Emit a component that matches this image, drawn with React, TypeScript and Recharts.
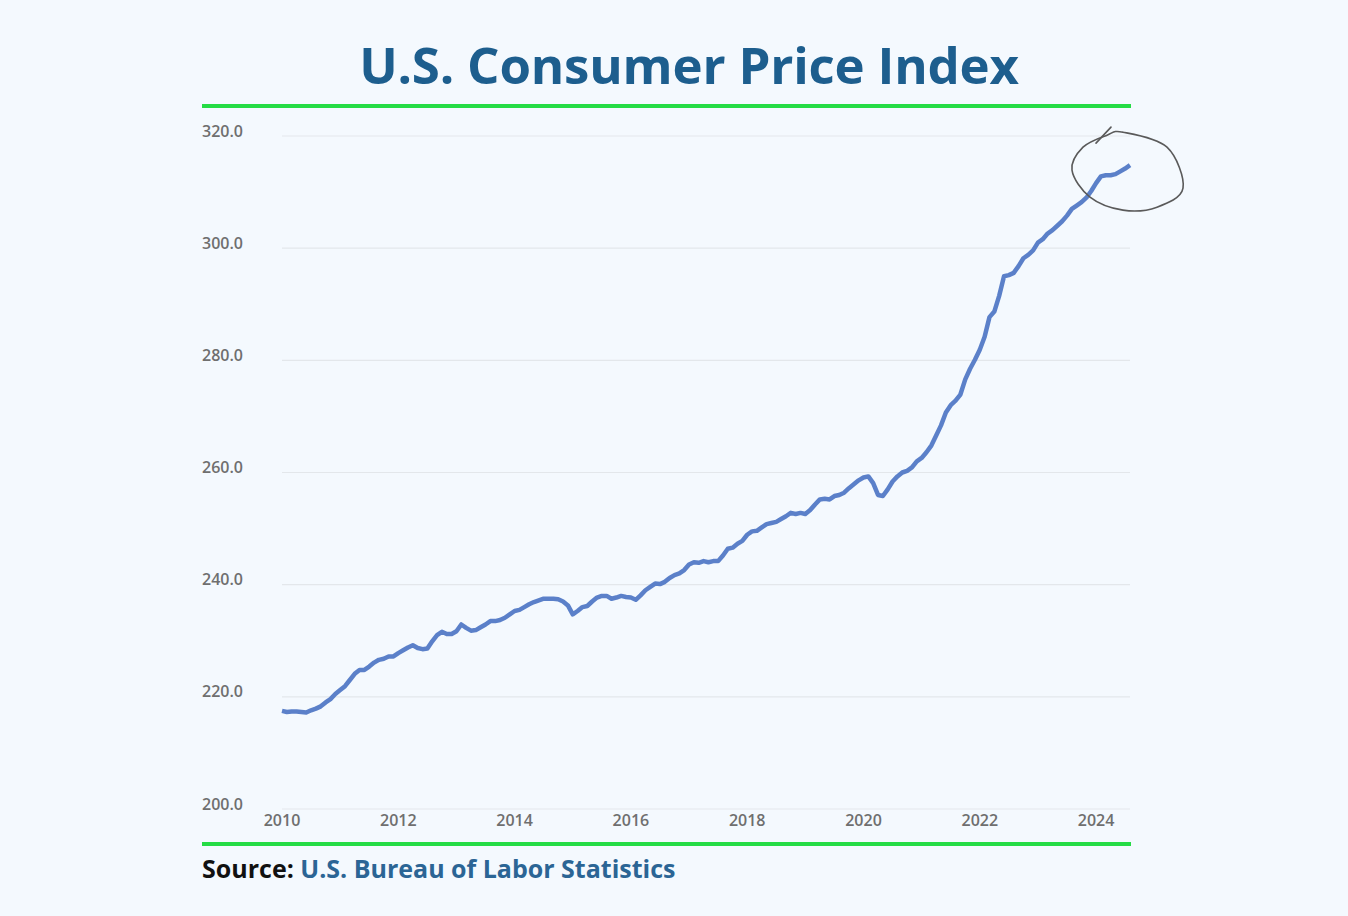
import { LineChart, Line, XAxis, YAxis, CartesianGrid, ReferenceDot } from "recharts";

// monthly CPI-U values
const cpi2010 = [217.5, 217.3, 217.4, 217.4, 217.3, 217.2, 217.6, 217.9, 218.3, 219.0, 219.6, 220.5];
const cpi2011 = [221.2, 221.9, 223.0, 224.1, 224.8, 224.8, 225.4, 226.1, 226.6, 226.8, 227.2, 227.2];
const cpi2012 = [227.8, 228.3, 228.8, 229.2, 228.7, 228.5, 228.6, 229.9, 231.0, 231.6, 231.2, 231.2];
const cpi2013 = [231.7, 232.9, 232.3, 231.8, 231.9, 232.4, 232.9, 233.5, 233.5, 233.7, 234.1, 234.7];
const cpi2014 = [235.3, 235.5, 236.0, 236.5, 236.9, 237.2, 237.5, 237.5, 237.5, 237.4, 237.0, 236.3];
const cpi2015 = [234.7, 235.3, 236.0, 236.2, 237.0, 237.7, 238.0, 238.0, 237.5, 237.7, 238.0, 237.8];
const cpi2016 = [237.7, 237.3, 238.1, 239.0, 239.6, 240.2, 240.1, 240.5, 241.2, 241.7, 242.0, 242.6];
const cpi2017 = [243.6, 244.0, 243.9, 244.2, 244.0, 244.2, 244.2, 245.2, 246.4, 246.6, 247.3, 247.8];
const cpi2018 = [248.9, 249.5, 249.6, 250.2, 250.8, 251.0, 251.2, 251.7, 252.2, 252.8, 252.6, 252.8];
const cpi2019 = [252.6, 253.3, 254.3, 255.2, 255.3, 255.2, 255.8, 256.0, 256.4, 257.2, 257.9, 258.6];
const cpi2020 = [259.1, 259.3, 258.1, 256.0, 255.8, 257.0, 258.4, 259.3, 260.0, 260.3, 260.9, 262.0];
const cpi2021 = [262.6, 263.6, 264.8, 266.6, 268.4, 270.7, 272.0, 272.8, 273.9, 276.6, 278.5, 280.1];
const cpi2022 = [281.9, 284.2, 287.7, 288.7, 291.5, 295.0, 295.2, 295.6, 296.8, 298.2, 298.8, 299.6];
const cpi2023 = [301.0, 301.6, 302.6, 303.2, 304.0, 304.8, 305.8, 307.0, 307.6, 308.2, 309.0, 310.2];
const cpi2024 = [311.6, 312.8, 313.0, 313.0, 313.2, 313.7, 314.2, 314.8];

const years = [2010, 2011, 2012, 2013, 2014, 2015, 2016, 2017, 2018, 2019, 2020, 2021, 2022, 2023, 2024];
const series = [cpi2010, cpi2011, cpi2012, cpi2013, cpi2014, cpi2015, cpi2016, cpi2017, cpi2018, cpi2019, cpi2020, cpi2021, cpi2022, cpi2023, cpi2024];

const xTicks = [2010, 2012, 2014, 2016, 2018, 2020, 2022, 2024];
const yTicks = [200, 220, 240, 260, 280, 300, 320];

const data: { t: number; cpi: number }[] = [];
years.forEach((y, i) => {
	series[i].forEach((v, m) => data.push({ t: y + m / 12, cpi: v }));
});
const last = data[data.length - 1];

const BG = "#f4f9fe";
const GREEN = "#25dc45";
const TICK = "#6f6f6f";
const FONT = "'Open Sans', sans-serif";

function YTick(props: any) {
	const { x, y, payload } = props;
	return (
		<text x={x - 80} y={y - 5} dy="0.35em" textAnchor="start" fill={TICK} fontSize={16} fontWeight={600} fontFamily={FONT}>
			{Number(payload.value).toFixed(1)}
		</text>
	);
}

// smooth closed loop through points (catmull-rom)
function loopPath(pts: number[][]) {
	const n = pts.length;
	let d = `M ${pts[0][0]} ${pts[0][1]}`;
	for (let i = 0; i < n; i++) {
		const p0 = pts[(i - 1 + n) % n];
		const p1 = pts[i];
		const p2 = pts[(i + 1) % n];
		const p3 = pts[(i + 2) % n];
		d += ` C ${p1[0] + (p2[0] - p0[0]) / 6} ${p1[1] + (p2[1] - p0[1]) / 6}, ${p2[0] - (p3[0] - p1[0]) / 6} ${p2[1] - (p3[1] - p1[1]) / 6}, ${p2[0]} ${p2[1]}`;
	}
	return d;
}

function Scribble(props: any) {
	const { cx, cy } = props;
	const pts = [
		[-7, -33], [37, -18], [53, 23], [27, 42], [-7, 45], [-40, 32], [-58, 5], [-47, -18], [-23, -30],
	].map(([dx, dy]) => [cx + dx, cy + dy]);
	return (
		<g fill="none" stroke="#5a5a5a" strokeWidth={1.6} strokeLinecap="round">
			<path d={loopPath(pts)} />
			<path d={`M ${cx - 34} ${cy - 22} L ${cx - 19} ${cy - 38}`} />
		</g>
	);
}

export default function App() {
	return (
		<div style={{ position: "absolute", left: 0, top: 0, width: 1348, height: 916, background: BG, fontFamily: FONT }}>
			<div style={{ position: "absolute", left: 0, width: 1378, top: 29, textAlign: "center", fontSize: 51, fontWeight: 700, color: "#1d5e8e", letterSpacing: -0.2 }}>
				U.S. Consumer Price Index
			</div>
			<div style={{ position: "absolute", left: 202, top: 104, width: 929, height: 4, background: GREEN }} />
			<div style={{ position: "absolute", left: 202, top: 842, width: 929, height: 4, background: GREEN }} />
			<div style={{ position: "absolute", left: 202, top: 851, fontSize: 25, fontWeight: 700, color: "#111" }}>
				Source: <span style={{ color: "#2b6595" }}>U.S. Bureau of Labor Statistics</span>
			</div>
			<div style={{ position: "absolute", left: 0, top: 0 }}>
				<LineChart width={1348} height={916} data={data} margin={{ top: 136, right: 218, bottom: 77, left: 202 }}>
					<CartesianGrid vertical={false} stroke="#e3e7eb" strokeWidth={1.2} />
					<XAxis
						type="number"
						dataKey="t"
						domain={[2010, last.t]}
						ticks={xTicks}
						tickFormatter={(v: number) => String(v)}
						axisLine={false}
						tickLine={false}
						tickSize={0}
						tickMargin={6}
						height={30}
						tick={{ fill: TICK, fontSize: 16, fontWeight: 600, fontFamily: FONT }}
					/>
					<YAxis
						domain={[200, 320]}
						ticks={yTicks}
						width={80}
						axisLine={false}
						tickLine={false}
						tickSize={0}
						tickMargin={0}
						tick={<YTick />}
					/>
					<Line type="linear" dataKey="cpi" stroke="#5b80c9" strokeWidth={4.5} dot={false} isAnimationActive={false} strokeLinejoin="round" />
					<ReferenceDot x={last.t} y={last.cpi} ifOverflow="visible" shape={<Scribble />} />
				</LineChart>
			</div>
		</div>
	);
}
